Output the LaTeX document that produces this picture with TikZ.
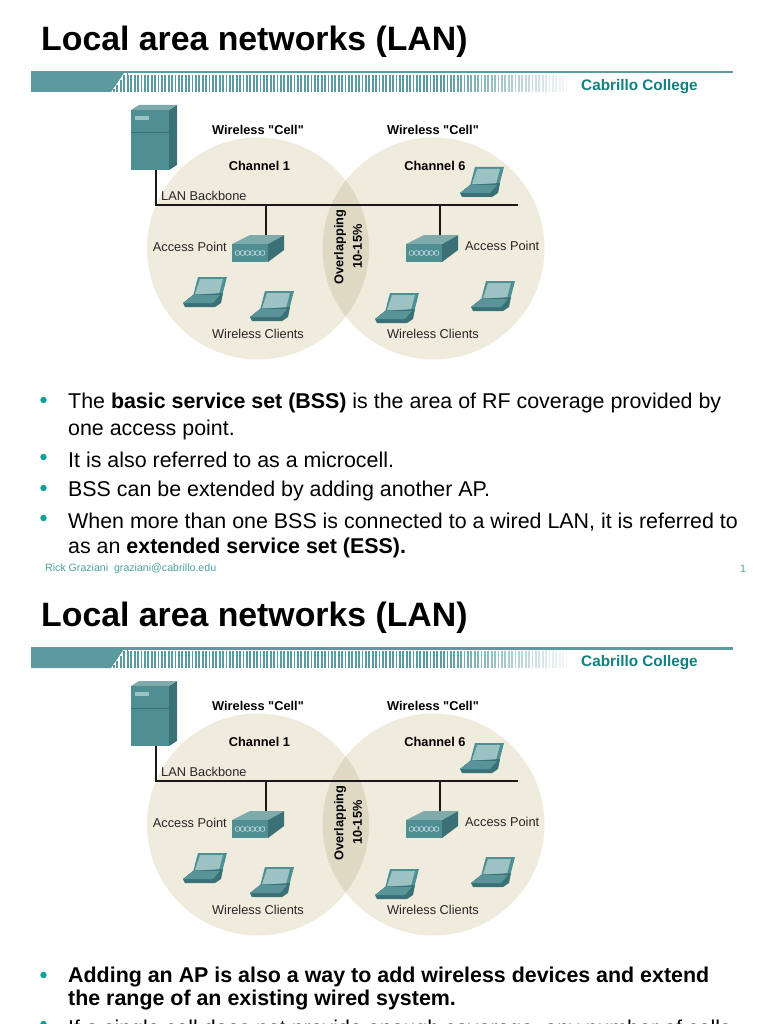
\documentclass[tikz,border=0pt]{standalone}
\usepackage{fontspec}
\setmainfont{Liberation Sans}
\newfontfamily\figfont{Liberation Sans}
\usetikzlibrary{calc}
\definecolor{bandteal}{HTML}{5B9AA0}
\definecolor{logoteal}{HTML}{11807F}
\definecolor{dotteal}{HTML}{12A09A}
\definecolor{cellfill}{HTML}{EFEBDD}
\definecolor{lapfill}{HTML}{DFD9C4}
\definecolor{boxfront}{HTML}{4F8F94}
\definecolor{boxside}{HTML}{3A7176}
\definecolor{boxtop}{HTML}{7FAAAC}
\definecolor{boxscreen}{HTML}{9DC2C3}
\tikzset{
  x=1pt,y=-1pt,
  titletext/.style={anchor=west,inner sep=0pt,font=\fontsize{33.8}{38}\selectfont\bfseries},
  logotext/.style={anchor=west,inner sep=0pt,text=logoteal,font=\fontsize{15.3}{17}\selectfont\bfseries},
  figtext/.style={inner sep=0pt,text=black!85,font=\fontsize{12.8}{14}\selectfont},
  figbold/.style={inner sep=0pt,font=\figfont\fontsize{12.8}{14}\selectfont\bfseries},
  bodytext/.style={anchor=west,inner sep=0pt,font=\fontsize{21.4}{24}\selectfont},
  bulletdot/.style={circle,fill=dotteal,inner sep=0pt,minimum size=6.5pt},
  foottext/.style={anchor=west,inner sep=0pt,text=logoteal!75,font=\fontsize{10.6}{12}\selectfont},
  wire/.style={line width=2.4pt,black!90},
  server/.pic={
    \fill[boxside] (38,5) -- (46,0) -- (46,60) -- (38,65) -- cycle;
    \fill[boxtop] (0,5) -- (8,0) -- (46,0) -- (38,5) -- cycle;
    \fill[boxfront] (0,5) rectangle (38,65);
    \fill[boxscreen] (4,11) rectangle (18,15);
    \draw[boxside,line width=.4pt] (0,27) -- (38,27);
    \coordinate (-base) at (25,65);
  },
  accesspoint/.pic={
    \fill[boxside] (36,9) -- (52,0) -- (52,15) -- (36,27) -- cycle;
    \fill[boxtop] (0,9) -- (18,0) -- (52,0) -- (36,9) -- cycle;
    \fill[boxfront] (0,9) rectangle (36,27);
    \foreach \i in {0,...,5}
      \draw[white!80!boxfront,line width=.5pt] (5.5+\i*5,18) circle (2.4pt);
    \coordinate (-top) at (34,0);
  },
  laptop/.pic={
    \fill[boxfront] (15,1) -- (44,1) -- (39,20) -- (10,20) -- cycle;
    \fill[boxscreen] (17,3) -- (40,3) -- (36,18) -- (12,18) -- cycle;
    \fill[boxside] (10,19) -- (40,17) -- (38,27) -- (32,31) -- (2,31) -- (0,27) -- cycle;
    \fill[boxfront!80!boxtop] (10,19) -- (37,19) -- (30,27) -- (0,27) -- cycle;
  },
}
% title, band and figure, the same on both slides
\newcommand{\slidetop}{
  \node[titletext] (title) at (41,42) {Local area networks (LAN)};
  \fill[bandteal] (31,71) rectangle (733,73.5);
  \fill[bandteal] (31,73) -- (124,73) -- (111,92) -- (31,92) -- cycle;
  \foreach \sx in {113,116.4,...,127}{
    \fill[bandteal] (\sx,{92-(\sx-111)*1.36}) rectangle (\sx+1.7,92);
  }
  \foreach \sx in {127,130.4,...,568}{
    \pgfmathsetmacro{\fade}{\sx<443 ? 100 : max(5,100-(\sx-443)*.76)}
    \fill[bandteal!\fade!white] (\sx,75) rectangle (\sx+1.7,92);
  }
  \node[logotext] (logo) at (581,86.5) {Cabrillo College};
  % cells
  \coordinate (cella) at (258,248.5);
  \coordinate (cellb) at (433.5,248.5);
  \fill[cellfill] (cella) circle (111pt);
  \fill[cellfill] (cellb) circle (111pt);
  \begin{scope}
    \clip (cella) circle (111pt);
    \fill[lapfill] (cellb) circle (111pt);
  \end{scope}
  % devices
  \pic (srv) at (131,105) {server};
  \pic (apa) at (232,235) {accesspoint};
  \pic (apb) at (406,235) {accesspoint};
  \pic at (183,276) {laptop};
  \pic at (250,290) {laptop};
  \pic at (460,166) {laptop};
  \pic at (375,292) {laptop};
  \pic at (471,280) {laptop};
  % backbone
  \coordinate (bbleft) at (156,205);
  \coordinate (bbright) at (517.5,205);
  \draw[wire] (srv-base) -- (bbleft) -- (bbright);
  \draw[wire] (apa-top) -- (apa-top |- bbleft);
  \draw[wire] (apb-top) -- (apb-top |- bbleft);
  % labels
  \node[figbold] (cellla) at (258,130) {Wireless "Cell"};
  \node[figbold] (celllb) at (433,130) {Wireless "Cell"};
  \node[figbold] (chana) at (259.5,165.5) {Channel 1};
  \node[figbold] (chanb) at (435,165.5) {Channel 6};
  \node[figtext,anchor=west] (bblabel) at (161,195.5) {LAN Backbone};
  \node[figtext,anchor=east] (apla) at (227,247) {Access Point};
  \node[figtext,anchor=west] (aplb) at (465,246) {Access Point};
  \node[figtext] (wca) at (258,333.5) {Wireless Clients};
  \node[figtext] (wcb) at (433,333.5) {Wireless Clients};
  \node[figbold,rotate=90] (ovla) at (340,247) {Overlapping};
  \node[figbold,rotate=90] (ovlb) at (357.5,246.5) {10-15\%};
}
\begin{document}
\begin{tikzpicture}
  \useasboundingbox (0,0) rectangle (768,1024);
  \clip (0,0) rectangle (768,1024);
  \begin{scope}[name prefix=one-]
    \slidetop
  \end{scope}
  \begin{scope}[shift={(0,576)},name prefix=two-]
    \slidetop
  \end{scope}
  % first slide text
  \node[bulletdot] (ba) at (43.5,400) {};
  \node[bodytext] (ta) at (68,403) {The \textbf{basic service set (BSS)} is the area of RF coverage provided by};
  \node[bodytext] (tb) at (68,429.5) {one access point.};
  \node[bulletdot] (bb) at (43.5,457) {};
  \node[bodytext] (tc) at (68,459.5) {It is also referred to as a microcell.};
  \node[bulletdot] (bc) at (43.5,488) {};
  \node[bodytext] (td) at (68,490.5) {BSS can be extended by adding another AP.};
  \node[bulletdot] (bd) at (43.5,518) {};
  \node[bodytext] (te) at (68,522) {When more than one BSS is connected to a wired LAN, it is referred to};
  \node[bodytext] (tf) at (68,548) {as an \textbf{extended service set (ESS).}};
  \node[foottext] (fa) at (45,568.5) {Rick Graziani\ \ graziani@cabrillo.edu};
  \node[foottext] (fb) at (740,568.5) {1};
  % second slide text
  \node[bulletdot] (be) at (43.5,975) {};
  \node[bodytext] (tg) at (68,977.5) {\textbf{Adding an AP is also a way to add wireless devices and extend}};
  \node[bodytext] (th) at (68,1000) {\textbf{the range of an existing wired system.}};
  \node[bulletdot] (bf) at (43.5,1024) {};
  \node[bodytext] (ti) at (68,1030) {If a single cell does not provide enough coverage, any number of cells};
\end{tikzpicture}
\end{document}
